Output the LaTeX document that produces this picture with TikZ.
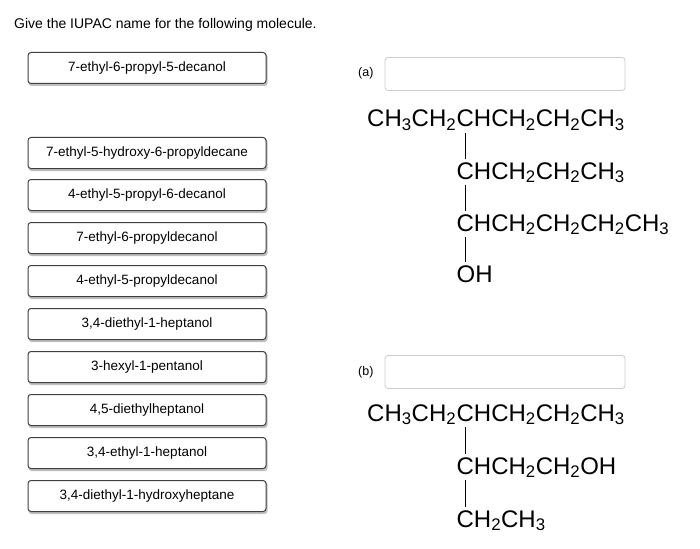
\documentclass[tikz,border=0pt]{standalone}
\usepackage{fontspec}
\setmainfont{Liberation Sans}
\usetikzlibrary{calc}
\newcommand{\chs}[1]{\textsubscript{#1}}
\begin{document}
\begin{tikzpicture}[x=1pt,y=-1pt,
  choice/.style={draw=black!75,line width=1pt,rounded corners=3pt,minimum width=238pt,minimum height=31pt,font=\fontsize{13.5}{15}\selectfont,fill=white},
  shadowbox/.style={fill=black!25,rounded corners=3pt},
  ansbox/.style={draw=black!20,line width=0.8pt,rounded corners=3pt,minimum width=240pt,minimum height=33pt},
  chem/.style={anchor=base west,inner sep=0pt,font=\fontsize{24}{28}\selectfont},
  lbl/.style={anchor=base west,inner sep=0pt,font=\fontsize{12.5}{14}\selectfont},
  bond/.style={line width=1.4pt}]
\useasboundingbox (0,0) rectangle (700,548);
\fill[white] (0,0) rectangle (700,548);
\node[anchor=base west,inner sep=0pt,font=\fontsize{14}{16}\selectfont] (title) at (14,29) {Give the IUPAC name for the following molecule.};
\foreach \y/\t [count=\i] in {68/7-ethyl-6-propyl-5-decanol,153/7-ethyl-5-hydroxy-6-propyldecane,195/4-ethyl-5-propyl-6-decanol,238/7-ethyl-6-propyldecanol,281/4-ethyl-5-propyldecanol,324/{3,4-diethyl-1-heptanol},367/3-hexyl-1-pentanol,410/{4,5-diethylheptanol},453/{3,4-ethyl-1-heptanol},496/{3,4-diethyl-1-hydroxyheptane}}{
  \fill[shadowbox] (28.5,\y-14.5) rectangle (267.5,\y+18);
  \node[choice] (c\i) at (147,\y) {\t};
}
% (a)
\node[lbl] (la) at (358,77) {(a)};
\node[ansbox] (ba) at (505,74) {};
\node[chem] (a1) at (367,127) {CH\chs{3}CH\chs{2}};
\node[chem] (a1c) at (a1.base east) {CHCH\chs{2}CH\chs{2}CH\chs{3}};
\node[chem] (a2) at ($(a1c.base west)+(0,52)$) {CHCH\chs{2}CH\chs{2}CH\chs{3}};
\node[chem] (a3) at ($(a2.base west)+(0,52)$) {CHCH\chs{2}CH\chs{2}CH\chs{2}CH\chs{3}};
\node[chem] (a4) at ($(a3.base west)+(0,51)$) {OH};
\foreach \p/\q in {a1c/a2,a2/a3,a3/a4}{
  \draw[bond] ($(\p.base west)+(9,6)$) -- ($(\q.base west)+(9,-20)$);
}
% (b)
\node[lbl] (lb) at (358,375) {(b)};
\node[ansbox] (bb) at (505,372) {};
\node[chem] (b1) at (367,421) {CH\chs{3}CH\chs{2}};
\node[chem] (b1c) at (b1.base east) {CHCH\chs{2}CH\chs{2}CH\chs{3}};
\node[chem] (b2) at ($(b1c.base west)+(0,53)$) {CHCH\chs{2}CH\chs{2}OH};
\node[chem] (b3) at ($(b2.base west)+(0,53)$) {CH\chs{2}CH\chs{3}};
\foreach \p/\q in {b1c/b2,b2/b3}{
  \draw[bond] ($(\p.base west)+(9,6)$) -- ($(\q.base west)+(9,-20)$);
}
\end{tikzpicture}
\end{document}
